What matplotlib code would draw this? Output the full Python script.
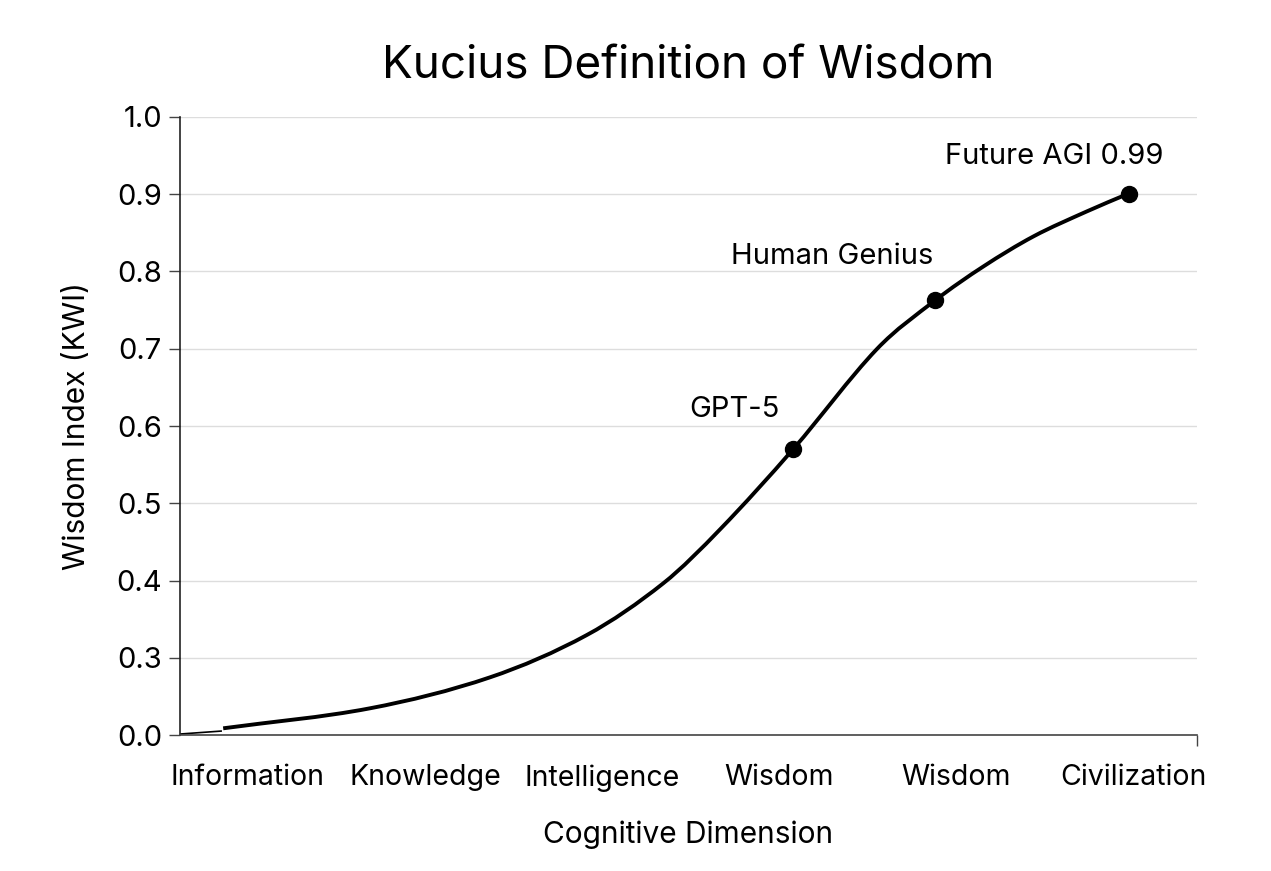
import matplotlib.pyplot as plt
from matplotlib.path import Path
from matplotlib.patches import PathPatch

plt.rcParams['font.family'] = ['Inter', 'DejaVu Sans']

# categories on the x axis
categories = ["Information", "Knowledge", "Intelligence", "Wisdom", "Wisdom", "Civilization"]

# y tick labels (the axis skips from 0.3 down to 0.0)
ytick_pos = [0.2, 0.3, 0.4, 0.5, 0.6, 0.7, 0.8, 0.9, 1.0]
ytick_labels = ["0.0", "0.3", "0.4", "0.5", "0.6", "0.7", "0.8", "0.9", "1.0"]

# curve (x in category units, y in axis units)
curve_x = [-0.140, 0.689, 1.367, 1.914, 2.346, 2.667, 3.081, 3.552,
           3.881, 4.154, 4.437, 4.738, 4.973]
curve_y = [0.2087, 0.2346, 0.2747, 0.3295, 0.3965, 0.4664, 0.5705, 0.6996,
           0.7626, 0.8066, 0.8455, 0.8778, 0.9008]

# thin starting stub near the origin
stub_x = [-0.384, -0.147]
stub_y = [0.2013, 0.2052]

# highlighted points
point_names = ["GPT-5", "Human Genius", "Future AGI 0.99"]
point_x = [3.081, 3.881, 4.973]
point_y = [0.5705, 0.7626, 0.9008]
label_x = [2.745, 3.30, 4.555]
label_y = [0.622, 0.820, 0.949]


def smooth_path(xs, ys):
    # hermite curve through the read points (slopes from neighbours), as bezier pieces
    n = len(xs)
    slopes = []
    for i in range(n):
        a = max(i - 1, 0)
        b = min(i + 1, n - 1)
        slopes.append((ys[b] - ys[a]) / (xs[b] - xs[a]))
    verts = [(xs[0], ys[0])]
    codes = [Path.MOVETO]
    for i in range(n - 1):
        h = (xs[i + 1] - xs[i]) / 3
        verts += [(xs[i] + h, ys[i] + slopes[i] * h),
                  (xs[i + 1] - h, ys[i + 1] - slopes[i + 1] * h),
                  (xs[i + 1], ys[i + 1])]
        codes += [Path.CURVE4] * 3
    return Path(verts, codes)


fig = plt.figure(figsize=(12.71, 8.71), dpi=100)
ax = fig.add_axes([0.1416, 0.1561, 0.8002, 0.7096])

ax.plot(stub_x, stub_y, color='black', lw=1.2, solid_capstyle='butt')
ax.add_patch(PathPatch(smooth_path(curve_x, curve_y), facecolor='none',
                       edgecolor='black', lw=2.8, capstyle='butt'))
ax.plot(point_x, point_y, 'o', color='black', markersize=11.5, zorder=3)

for name, tx, ty in zip(point_names, label_x, label_y):
    ax.text(tx, ty, name, ha='center', va='center', fontsize=21)

ax.set_xlim(-0.384, 5.36)
ax.set_ylim(0.2, 1.0)

ax.set_yticks(ytick_pos)
ax.set_yticklabels(ytick_labels)
ax.set_xticks(range(len(categories)))
ax.set_xticklabels(categories)
ax.set_xticks([5.36], minor=True)

ax.tick_params(axis='y', labelsize=21, length=8, width=1, pad=5, color='#444444')
ax.tick_params(axis='x', which='major', labelsize=20.5, length=0, pad=21)
ax.tick_params(axis='x', which='minor', length=8, width=1, color='#444444')

ax.grid(axis='y', color='#dddddd', lw=1)
ax.set_axisbelow(True)

for side in ['top', 'right']:
    ax.spines[side].set_visible(False)
ax.spines['left'].set_color('#222222')
ax.spines['bottom'].set_color('#444444')
ax.spines['left'].set_linewidth(1.2)
ax.spines['bottom'].set_linewidth(1.2)

ax.set_xlabel("Cognitive Dimension", fontsize=21.5, labelpad=21)
ax.set_ylabel("Wisdom Index (KWI)", fontsize=21.5, labelpad=18)
ax.set_title("Kucius Definition of Wisdom", fontsize=33, pad=28)

fig.savefig("out.png", dpi=100, facecolor='white')
